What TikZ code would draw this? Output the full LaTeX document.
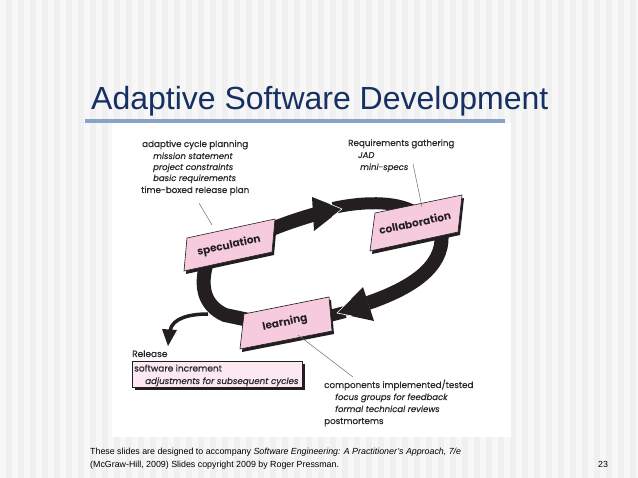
\documentclass[tikz,border=0pt]{standalone}
\usepackage{fontspec}
\setmainfont{Liberation Sans}
\newfontfamily\fut[FakeBold=0.5]{Poppins}
\newfontfamily\futb{Poppins}
\definecolor{titleblue}{RGB}{22,48,98}
\definecolor{barblue}{RGB}{135,163,198}
\definecolor{boxpink}{RGB}{246,203,222}
\definecolor{relpink}{RGB}{251,232,241}
\definecolor{loopblack}{RGB}{35,31,32}
\definecolor{bggray}{RGB}{240,240,240}
\definecolor{stripe}{RGB}{247,247,247}
\definecolor{leadgray}{RGB}{110,110,110}
\definecolor{txtgray}{RGB}{40,40,45}
\begin{document}
\begin{tikzpicture}[x=1pt,y=-1pt,
  band/.style={draw=loopblack,line width=14pt},
  head/.style={fill=loopblack},
  tipline/.style={draw=white,line width=0.6pt},
  pbox/.style={fill=boxpink,draw=loopblack,line width=0.6pt},
  pshadow/.style={fill=loopblack},
  lbl/.style={font=\futb\bfseries\fontsize{10.5}{12}\selectfont,text=loopblack,rotate=12,inner sep=0pt},
  note/.style={font=\fut\fontsize{8.75}{10}\selectfont,text=txtgray,inner sep=0pt,anchor=base west},
  inote/.style={note,font=\fut\itshape\fontsize{8.5}{10}\selectfont},
  rnote/.style={note,font=\fut\fontsize{9}{11}\selectfont},
  rinote/.style={note,font=\fut\itshape\fontsize{8.7}{11}\selectfont},
  leader/.style={draw=leadgray,line width=0.5pt},
  foot/.style={font=\fontsize{8.85}{10}\selectfont,text=black,inner sep=0pt,anchor=base west}]

\useasboundingbox (0,0) rectangle (638,478);
\fill[bggray] (0,0) rectangle (638,478);
\foreach \i in {0,12,...,636} \fill[stripe] (\i,0) rectangle ++(6,478);
\fill[white] (112,123) rectangle (511,437);

% title
\node[anchor=base west,font=\fontsize{32}{38}\selectfont,text=titleblue,inner sep=0pt] (title) at (91,110) {Adaptive Software Development};
\fill[barblue] (85,119) rectangle (505,123);

% loop bands
\draw[band] (250,238) .. controls (278,226) and (295,220) .. (316,214);
\draw[band,line width=12pt] (333,208) .. controls (360,202) and (395,200) .. (415,212);
\draw[band] (441,230) .. controls (446,262) and (420,285) .. (368,303);
\draw[band,line width=12pt] (345,312) -- (318,319);
\draw[band] (207,262) .. controls (200,285) and (203,305) .. (225,315) -- (258,322);
\draw[loopblack,line width=3.5pt] (208,314) .. controls (190,314) and (172,318) .. (170,331);

% arrowheads
\fill[head] (312,197) -- (342,209) -- (314,231) -- cycle;
\draw[tipline] (330,204) -- (342,209) -- (332,217);
\fill[head] (363,287) -- (337,313) -- (374,321) -- cycle;
\draw[tipline] (351,299) -- (337,313) -- (352,316);
\fill[head] (162,329) -- (177,330) -- (168,346) -- cycle;

% speculation box
\fill[pshadow,shift={(2,3)}] (187,238) -- (275,219) -- (272,252) -- (184,271) -- cycle;
\filldraw[pbox] (187,238) -- (275,219) -- (272,252) -- (184,271) -- cycle;
\node[lbl] (spec) at (229,246) {speculation};

% collaboration box
\fill[pshadow,shift={(2,3)}] (375,213) -- (462,195) -- (458,232) -- (370,251) -- cycle;
\filldraw[pbox] (375,213) -- (462,195) -- (458,232) -- (370,251) -- cycle;
\node[lbl] (collab) at (415,223) {collaboration};

% learning box
\fill[pshadow,shift={(2,3)}] (244,314) -- (329,297) -- (332,331) -- (240,349) -- cycle;
\filldraw[pbox] (244,314) -- (329,297) -- (332,331) -- (240,349) -- cycle;
\node[lbl] (learn) at (285,323) {learning};

% top-left notes
\node[note] (tl1) at (142,147) {adaptive cycle planning};
\node[inote] (tl2) at (153,159) {mission statement};
\node[inote] (tl3) at (153,170) {project constraints};
\node[inote] (tl4) at (153,181) {basic requirements};
\node[note] (tl5) at (141,193) {time-boxed release plan};
\coordinate (c1a) at (199,203);
\coordinate (c1b) at (212,225);
\draw[leader] (c1a) -- (c1b);

% top-right notes
\node[note] (tr1) at (348,146) {Requirements gathering};
\node[inote] (tr2) at (358,158) {JAD};
\node[inote] (tr3) at (360,170) {mini-specs};
\coordinate (c2a) at (413,164);
\coordinate (c2b) at (422,207);
\draw[leader] (c2a) -- (c2b);

% release
\node[rnote] (rel) at (132,357) {Release};
\fill[pshadow] (135,364) rectangle (305,390);
\filldraw[fill=relpink,draw=loopblack,line width=0.6pt] (132,361) rectangle (302,387);
\node[rnote] (rel1) at (134,371.5) {software increment};
\node[rinote] (rel2) at (145,384) {adjustments for subsequent cycles};

% components
\coordinate (c3a) at (298,335);
\coordinate (c3b) at (353,377);
\draw[leader] (c3a) -- (c3b);
\node[note] (co1) at (324,388) {components implemented/tested};
\node[inote] (co2) at (335,400) {focus groups for feedback};
\node[inote] (co3) at (335,412) {formal technical reviews};
\node[note] (co4) at (324,424) {postmortems};

% footer
\node[foot] (f1) at (90,455) {These slides are designed to accompany \textit{Software Engineering: A Practitioner's Approach, 7/e}};
\node[foot] (f2) at (90,468) {(McGraw-Hill, 2009) Slides copyright 2009 by Roger Pressman.};
\node[foot] (pg) at (598,468) {23};
\end{tikzpicture}
\end{document}
